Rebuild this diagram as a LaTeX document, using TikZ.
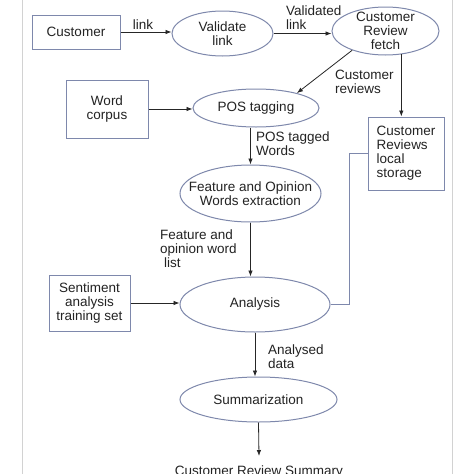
\documentclass[tikz,border=0pt]{standalone}
\usepackage{fontspec}
\setmainfont{Liberation Sans}
\usetikzlibrary{shapes.geometric,arrows.meta}
\definecolor{bordc}{RGB}{126,136,172}
\definecolor{txtc}{RGB}{35,35,35}
\definecolor{framec}{RGB}{210,210,210}
\begin{document}
\begin{tikzpicture}[x=1pt,y=-1pt,
  every node/.style={text=txtc,font=\fontsize{13.5}{14}\selectfont},
  box/.style={draw=bordc,line width=1pt,rectangle,inner sep=0pt,align=center},
  ell/.style={draw=bordc,line width=1pt,ellipse,inner sep=0pt},
  txt/.style={inner sep=0pt,align=center},
  lbl/.style={inner sep=0pt,align=left,anchor=west},
  arr/.style={draw=black!85,line width=0.8pt,-{Latex[length=6pt,width=4.5pt]}},
  conn/.style={draw=bordc,line width=1pt},
  frame/.style={draw=framec,line width=1pt}]
\useasboundingbox (0,0) rectangle (474,474);
\fill[white] (0,0) rectangle (474,474);
\draw[frame] (22,0) -- (22,474);
\draw[frame] (452,0) -- (452,474);

\node[box,minimum width=88,minimum height=34] (cust) at (76,32) {Customer};
\node[ell,minimum width=101,minimum height=45] (val) at (222.5,33.5) {};
\node[txt] (valt) at (val) {Validate\\link};
\node[ell,minimum width=107,minimum height=48] (crf) at (385.5,31) {};
\node[txt] (crft) at (crf) {Customer\\Review\\fetch};
\node[box,minimum width=82,minimum height=58] (wc) at (107,109) {Word\\corpus};
\node[ell,minimum width=126,minimum height=38] (pos) at (256,108) {};
\node[txt] (post) at (pos) {POS tagging};
\node[box,minimum width=76,minimum height=73,align=left] (crs) at (406,153.5) {Customer\\Reviews\\local\\storage};
\node[ell,minimum width=141,minimum height=57] (fow) at (250.5,193.5) {};
\node[txt] (fowt) at (fow) {Feature and Opinion\\Words extraction};
\node[box,minimum width=81,minimum height=56] (sent) at (89.5,303) {Sentiment\\analysis\\training set};
\node[ell,minimum width=150,minimum height=55] (ana) at (255,304.5) {};
\node[txt] (anat) at (ana) {Analysis};
\node[ell,minimum width=157,minimum height=45] (sum) at (258.5,399.5) {};
\node[txt] (sumt) at (sum) {Summarization};
\node[inner sep=0pt,anchor=base] (out) at (259,475) {Customer Review Summary};

\node[txt] (l1) at (143,25) {link};
\node[lbl] (l2) at (286,17.5) {Validated\\link};
\node[lbl] (l3) at (335,81.5) {Customer\\reviews};
\node[lbl] (l4) at (256,144) {POS tagged\\Words};
\node[lbl] (l5) at (160,249) {Feature and\\opinion word\\\hspace*{4pt}list};
\node[lbl] (l6) at (268,356.5) {Analysed\\data};

\coordinate (bend) at (349,153.5);

\draw[arr] (cust.east) -- (cust.east -| val.west);
\draw[arr] (val.east) -- (val.east -| crf.west);
\draw[arr] (wc.east) -- (wc.east -| pos.west);
\draw[arr] (crf.210) -- (pos.20);
\draw[arr] (crf.-56) -- (crf.-56 |- crs.north);
\draw[arr] (pos.south -| fow.north) -- (fow.north);
\draw[arr] (fow.south) -- (fow.south |- ana.north);
\draw[arr] (sent.east) -- (sent.east -| ana.west);
\draw[conn] (ana.east) -| (bend) -- (crs.west);
\draw[arr] (ana.south) -- (ana.south |- sum.north);
\draw[arr] (sum.south) -- ([yshift=9pt]out.north);
\end{tikzpicture}
\end{document}
